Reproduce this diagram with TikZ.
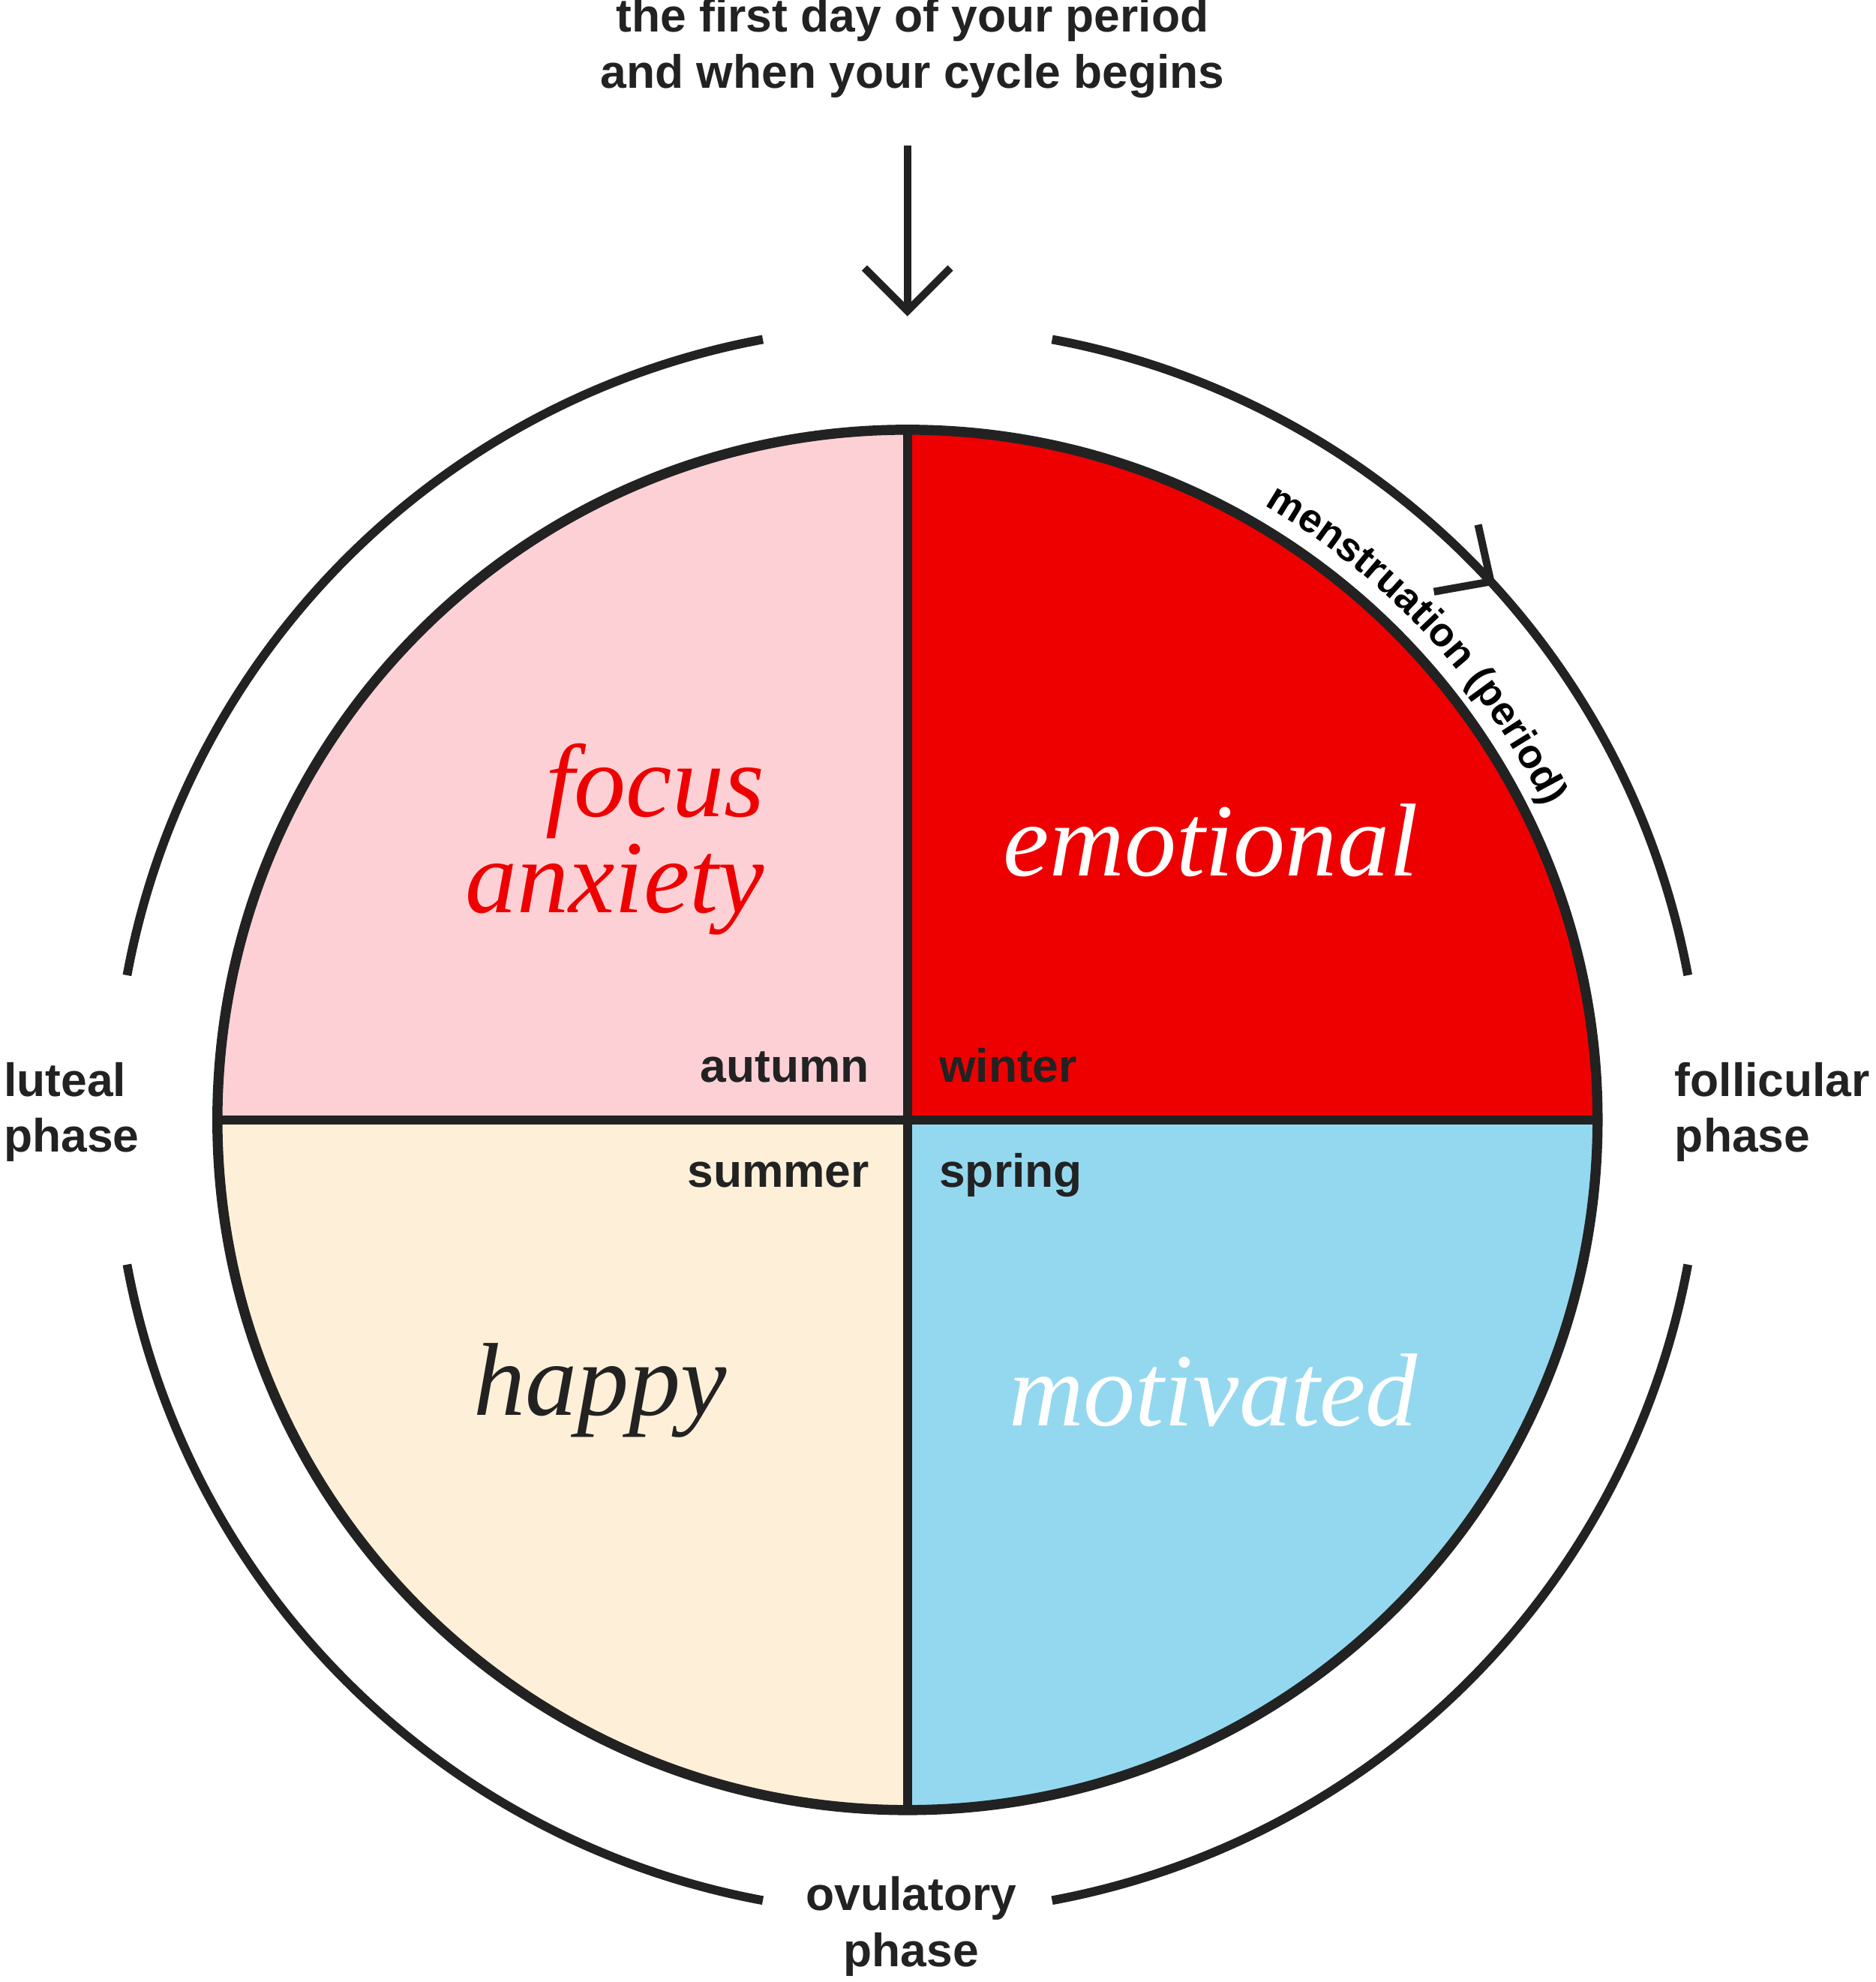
\documentclass[tikz,border=0pt]{standalone}
\usepackage{fontspec}
\setmainfont{Liberation Sans}
\newfontfamily\ser{Liberation Serif}
\usetikzlibrary{decorations.text,arrows.meta,calc}
\definecolor{pinkq}{HTML}{FDD0D6}
\definecolor{redq}{HTML}{EE0000}
\definecolor{creamq}{HTML}{FEF0D8}
\definecolor{blueq}{HTML}{94D8F0}
\definecolor{ink}{HTML}{222222}
\begin{document}
\begin{tikzpicture}[x=1pt,y=1pt,
  lab/.style={font=\fontsize{37}{44}\selectfont\bfseries,text=ink,inner sep=0},
  big/.style={font=\fontsize{82}{84}\selectfont\ser\itshape,inner sep=0},
  arcl/.style={line width=7pt,draw=ink}]
\useasboundingbox (0,0) rectangle (1484,1568);
\coordinate (c) at (718,682);
\def\R{546}
\fill[pinkq] (c) -- ++(180:\R) arc (180:90:\R) -- cycle;
\fill[redq] (c) -- ++(90:\R) arc (90:0:\R) -- cycle;
\fill[blueq] (c) -- ++(0:\R) arc (0:-90:\R) -- cycle;
\fill[creamq] (c) -- ++(-90:\R) arc (-90:-180:\R) -- cycle;
\draw[line width=8pt,ink] (c) circle (\R);
\draw[line width=7pt,ink] ($(c)+(0,\R)$) -- ($(c)+(0,-\R)$);
\draw[line width=7pt,ink] ($(c)+(-\R,0)$) -- ($(c)+(\R,0)$);
% outer arcs
\foreach \a in {10.5,100.5,190.5,280.5}
  \draw[arcl] (c) ++(\a:628) arc (\a:\a+69:628);
% chevron on upper-right arc
\coordinate (ch) at ($(c)+(42.7:628)$);
\draw[line width=6pt,ink,line join=miter] ($(ch)+(-10,45)$) -- (ch) -- ($(ch)+(-45,-8)$);
% top arrow
\coordinate (ta) at (718,1453);
\coordinate (tb) at (718,1322);
\draw[line width=6pt,ink] (ta) -- (tb);
\draw[line width=6pt,ink] (684,1356) -- (tb) -- (752,1356);
% curved text
\path[decorate,decoration={text along path,text align=center,
  text={|\fontsize{32}{32}\selectfont\bfseries|menstruation (period)}}]
  (c) ++(66:562) arc (66:20:562);
\node[lab,align=center] (top) at (722,1530) {the first day of your period\\and when your cycle begins};
\node[lab,align=left,anchor=west] (lut) at (3,688) {luteal\\phase};
\node[lab,align=left,anchor=west] (fol) at (1325,688) {follicular\\phase};
\node[lab,align=center] (ovu) at (721,44) {ovulatory\\phase};
\node[lab,anchor=base east] (aut) at (688,712) {autumn};
\node[lab,anchor=base west] (win) at (743,712) {winter};
\node[lab,anchor=base east] (sum) at (688,629) {summer};
\node[lab,anchor=base west] (spr) at (743,629) {spring};
\node[big,text=redq,anchor=base east] (foc) at (605,922) {focus};
\node[big,text=redq,anchor=base east] (anx) at (605,846) {anxiety};
\node[big,text=white] (emo) at (958,903) {emotional};
\node[big,text=ink] (hap) at (475,468) {happy};
\node[big,text=white] (mot) at (960,468) {motivated};
\end{tikzpicture}
\end{document}
